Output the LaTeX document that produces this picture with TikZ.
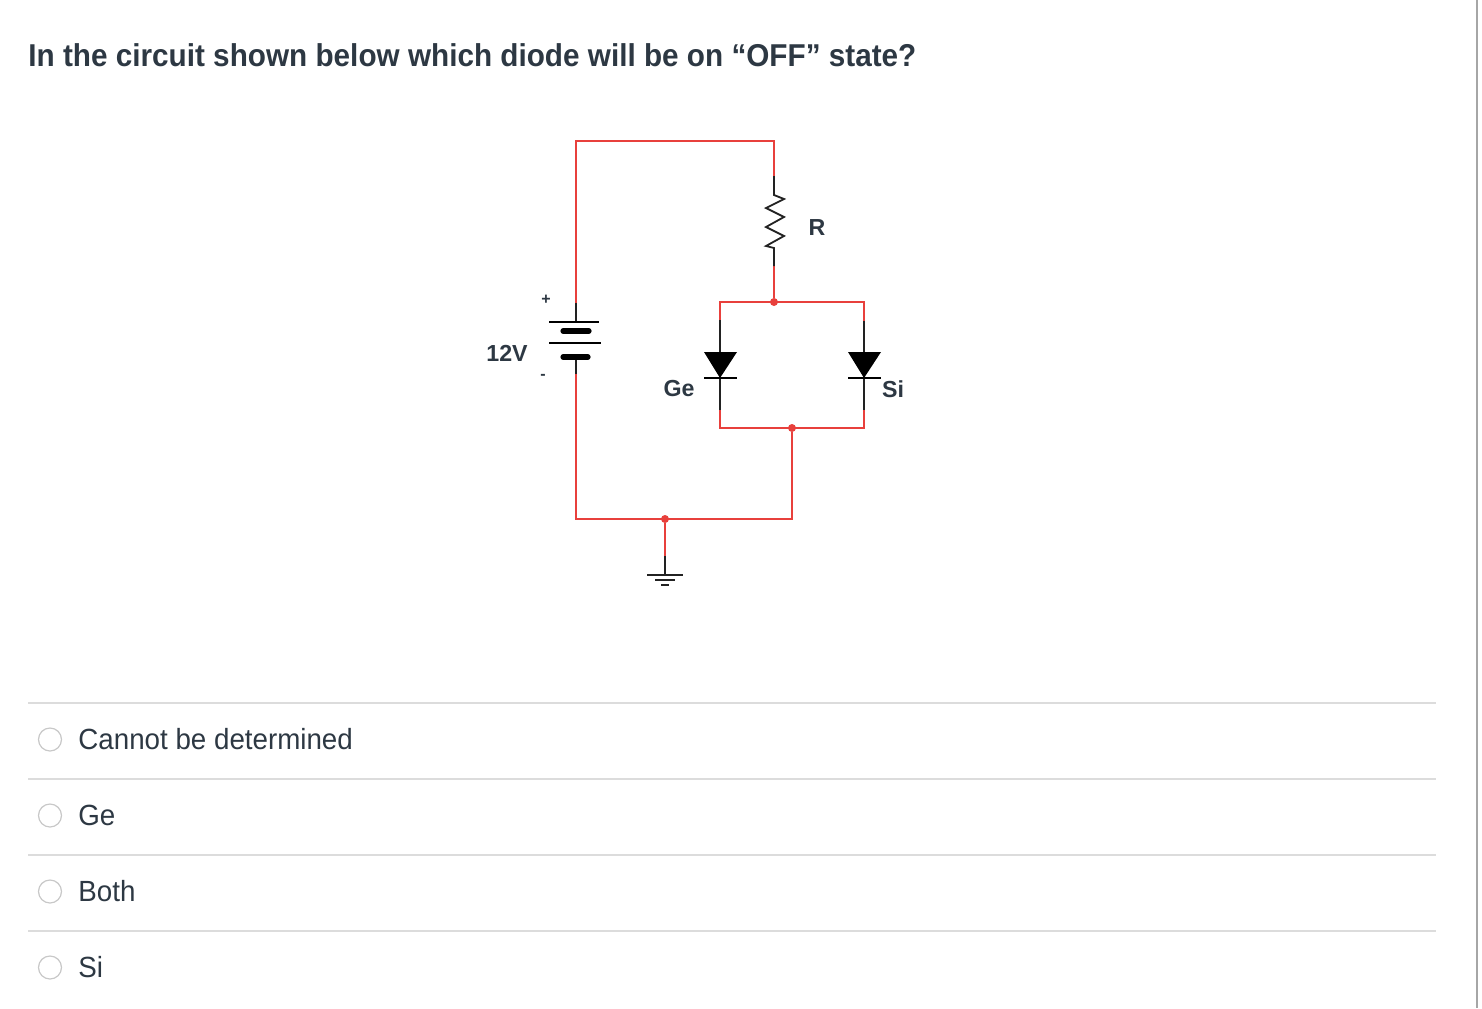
\documentclass[tikz,border=0pt]{standalone}
\usepackage{fontspec}
\usepackage{xcolor}
\setmainfont{Liberation Sans}
\newfontfamily\squeezedfont[FakeStretch=0.95]{Liberation Sans}
\newfontfamily\titlefont[FakeStretch=0.94]{Liberation Sans}
\definecolor{wire red}{HTML}{E8403C}
\definecolor{lead black}{HTML}{222222}
\definecolor{ink}{HTML}{2D3843}
\definecolor{rule gray}{HTML}{DCDCDC}
\definecolor{radio gray}{HTML}{C8C8C8}
\tikzset{wire/.style={draw=wire red, line width=1.3pt},
    lead/.style={draw=lead black, line width=1.3pt},
    plate/.style={draw=black, line width=1.4pt},
    shortplate/.style={draw=black, line width=2.6pt, line cap=round},
    dot/.style={circle, fill=wire red, inner sep=0pt, minimum size=4pt},
    partlabel/.style={text=ink, inner sep=0pt, font=\bfseries\fontsize{11.6}{14}\selectfont},
    answer/.style={text=ink, inner sep=0pt, anchor=base west, font=\squeezedfont\fontsize{14.6}{18}\selectfont},
    radio/.style={circle, draw=radio gray, line width=0.6pt, fill=white, minimum size=11.5pt, inner sep=0pt},
    diodehead/.style={fill=black}}

\begin{document}
\begin{tikzpicture}[x=0.5pt, y=-0.5pt]
    \useasboundingbox (0,0) rectangle (1482,1008);
    \node[text=ink, inner sep=0pt, anchor=base west, font=\titlefont\bfseries\fontsize{15.8}{19}\selectfont] (question)
      at (28,66) {In the circuit shown below which diode will be on “OFF” state?};
    % page edge
    \coordinate (edge top) at (1477,0);
    \coordinate (edge bottom) at (1477,1008);
    \draw[draw=black!35, line width=1pt] (edge top) -- (edge bottom);
    % wires
    \coordinate (top left) at (576,141);
    \coordinate (top right) at (774,141);
    \coordinate (res top) at (774,176);
    \coordinate (res a) at (774,195);
    \coordinate (res b) at (774,248);
    \coordinate (res bottom) at (774,266);
    \coordinate (bat top) at (576,303);
    \coordinate (bat plus) at (576,322);
    \coordinate (bat minus) at (576,357);
    \coordinate (bat low) at (576,374);
    \coordinate (bottom left) at (576,519);
    \coordinate (bottom right) at (792,519);
    \node[dot] (par top) at (774,302) {};
    \node[dot] (par bottom) at (792,428) {};
    \node[dot] (gnd join) at (665,519) {};
    \coordinate (gnd red) at (665,556);
    \coordinate (gnd bar) at (665,575);
    \coordinate (ge corner top) at (720,302);
    \coordinate (ge top) at (720,320);
    \coordinate (ge low) at (720,410);
    \coordinate (ge corner low) at (720,428);
    \coordinate (si corner top) at (864,302);
    \coordinate (si top) at (864,321);
    \coordinate (si low) at (864,410);
    \coordinate (si corner low) at (864,428);
    \draw[wire] (bat top) -- (top left) -- (top right) -- (res top);
    \draw[wire] (res bottom) -- (par top);
    \draw[wire] (ge top) -- (ge corner top) -- (si corner top) -- (si top);
    \draw[wire] (ge low) -- (ge corner low) -- (si corner low) -- (si low);
    \draw[wire] (par bottom) -- (bottom right) -- (bottom left) -- (bat low);
    \draw[wire] (gnd join) -- (gnd red);
    % resistor
    \draw[lead, line width=0.9pt] (res top) -- (res a) -- (784,199) -- (766,208) -- (784,217)
      -- (766,227) -- (784,236) -- (766,246) -- (res b) -- (res bottom);
    % battery
    \draw[lead] (bat top) -- (bat plus);
    \draw[lead] (bat minus) -- (bat low);
    \draw[plate] (549,322) -- (599,322);
    \draw[shortplate] (563,331) -- (589,331);
    \draw[plate] (549,343) -- (601,343);
    \draw[shortplate] (563,357) -- (588,357);
    % diodes
    \foreach \dname/\dx in {ge/720,si/864} {
      \draw[lead] (\dname\space top) -- (\dname\space low);
      \fill[diodehead] (\dx-16,352) -- (\dx+17,352) -- (\dx,378) -- cycle;
      \draw[plate] (\dx-16,378) -- (\dx+17,378);
    }
    % ground
    \draw[lead] (gnd red) -- (gnd bar);
    \draw[draw=lead black, line width=1.1pt] (647,575) -- (683,575);
    \draw[draw=lead black, line width=1pt] (655,580) -- (675,580);
    \draw[draw=lead black, line width=1pt] (661,585) -- (669,585);
    % labels
    \node[partlabel, font=\bfseries\fontsize{8}{9}\selectfont] (plus label) at (546,300) {+};
    \node[partlabel, font=\bfseries\fontsize{8}{9}\selectfont] (minus label) at (543,377) {-};
    \node[partlabel] (volt label) at (507,353) {12V};
    \node[partlabel] (ge label) at (679,389) {Ge};
    \node[partlabel] (si label) at (893,389) {Si};
    \node[partlabel] (r label) at (817,228) {R};
    % answers
    \foreach \aname/\ay/\atext in {a/703/Cannot be determined, b/779/Ge, c/855/Both, d/931/Si} {
      \coordinate (rule \aname\space start) at (28,\ay);
      \coordinate (rule \aname\space end) at (1436,\ay);
      \draw[draw=rule gray, line width=1pt] (rule \aname\space start) -- (rule \aname\space end);
      \node[radio] (radio \aname) at (50,\ay+36.5) {};
      \node[answer] (answer \aname) at (78,\ay+46) {\atext};
    }
\end{tikzpicture}
\end{document}
